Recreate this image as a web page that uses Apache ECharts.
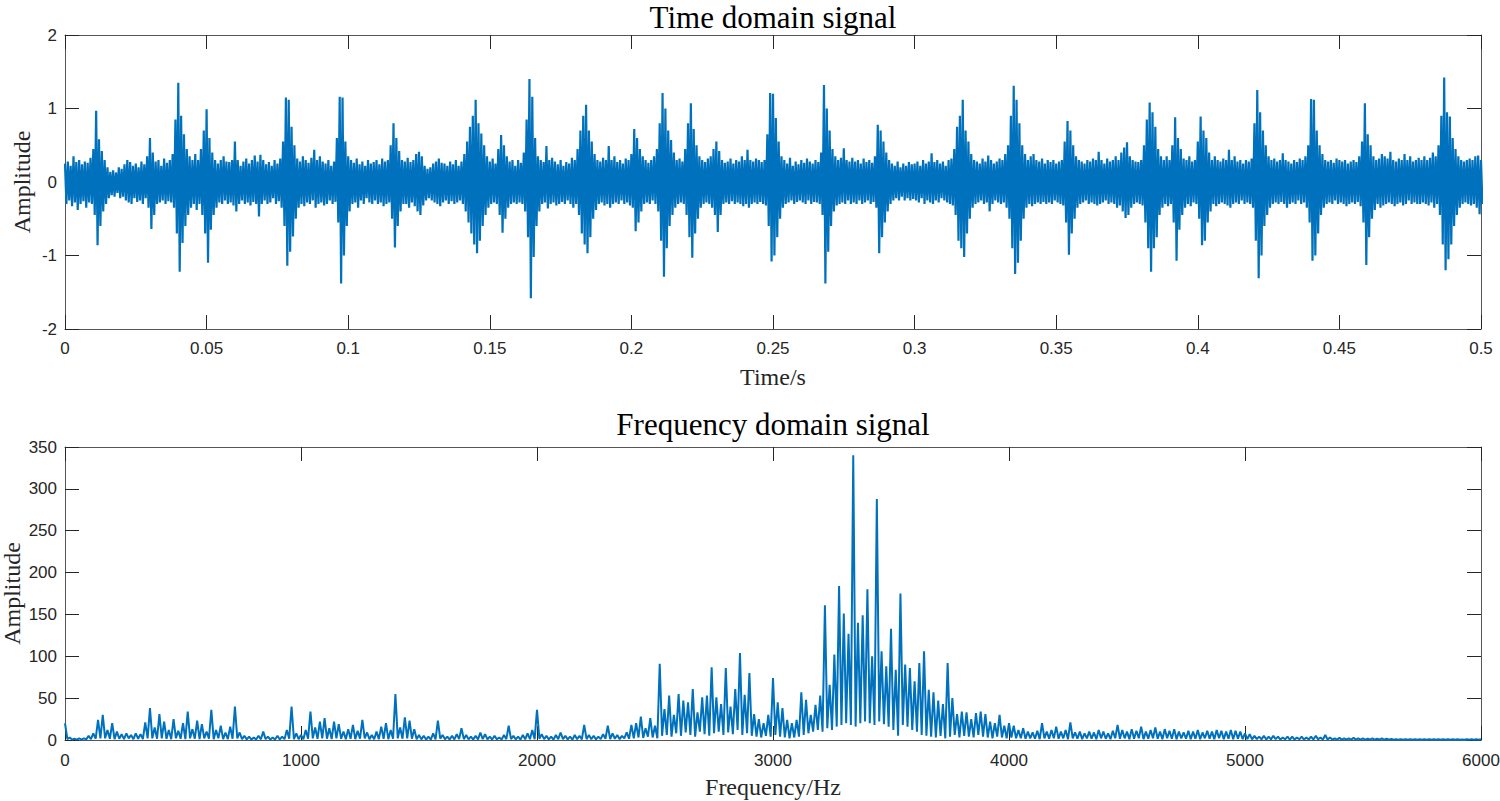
<!DOCTYPE html>
<html>
<head>
<meta charset="utf-8">
<title>Time domain signal / Frequency domain signal</title>
<script src="https://cdn.jsdelivr.net/npm/echarts@6/dist/echarts.min.js"></script>
<style>
  html, body { margin: 0; padding: 0; background: #fff; }
  #chart { width: 1500px; height: 801px; }
</style>
</head>
<body>
<div id="chart"></div>
<script>
// time signal: upper and lower extreme per 1 ms slot
const timeStep = 0.001;
const timeUpper = [
  0.25,0.28,0.22,0.35,0.27,0.3,0.24,0.28,0.26,0.33,0.45,0.97,0.58,0.42,0.3,0.2,0.14,0.16,0.13,0.2,
  0.18,0.24,0.3,0.27,0.22,0.25,0.2,0.28,0.24,0.35,0.6,0.4,0.28,0.3,0.22,0.32,0.26,0.3,0.38,0.85,
  1.35,0.9,0.65,0.45,0.35,0.3,0.38,0.3,0.45,0.7,0.99,0.6,0.4,0.3,0.25,0.3,0.35,0.28,0.27,0.3,
  0.55,0.3,0.22,0.28,0.32,0.25,0.3,0.36,0.28,0.37,0.3,0.24,0.27,0.22,0.3,0.25,0.32,0.55,1.15,1.12,
  0.75,0.5,0.32,0.28,0.35,0.3,0.26,0.33,0.44,0.3,0.35,0.28,0.25,0.3,0.22,0.28,0.6,1.16,1.15,0.55,
  0.35,0.3,0.26,0.32,0.24,0.28,0.22,0.3,0.25,0.27,0.3,0.24,0.32,0.28,0.3,0.5,0.8,0.6,0.42,0.3,
  0.28,0.33,0.27,0.3,0.38,0.41,0.35,0.22,0.18,0.2,0.25,0.28,0.32,0.26,0.25,0.22,0.28,0.24,0.3,0.22,
  0.28,0.38,0.55,0.75,0.9,1.12,0.8,0.66,0.5,0.35,0.28,0.32,0.25,0.45,0.64,0.5,0.35,0.28,0.3,0.22,
  0.3,0.26,0.4,0.85,1.4,1.16,0.6,0.35,0.3,0.27,0.49,0.3,0.33,0.28,0.24,0.3,0.22,0.27,0.25,0.33,
  0.3,0.45,0.7,0.9,1.05,0.7,0.55,0.38,0.3,0.28,0.33,0.3,0.49,0.3,0.35,0.27,0.3,0.25,0.32,0.3,
  0.38,0.72,0.6,0.45,0.35,0.3,0.26,0.3,0.35,0.45,0.8,1.21,1.0,0.7,0.57,0.4,0.3,0.32,0.28,0.45,
  0.8,1.07,0.72,0.5,0.35,0.3,0.27,0.32,0.35,0.45,0.55,0.42,0.3,0.26,0.28,0.32,0.25,0.3,0.28,0.35,
  0.3,0.44,0.3,0.28,0.32,0.3,0.27,0.3,0.65,1.21,1.2,0.87,0.55,0.35,0.3,0.25,0.33,0.22,0.28,0.24,
  0.3,0.26,0.32,0.28,0.25,0.3,0.27,0.4,1.32,1.0,0.7,0.45,0.35,0.3,0.33,0.46,0.3,0.28,0.33,0.28,
  0.3,0.25,0.32,0.27,0.3,0.26,0.35,0.78,0.7,0.55,0.4,0.3,0.25,0.22,0.28,0.2,0.25,0.22,0.27,0.24,
  0.25,0.28,0.22,0.3,0.25,0.28,0.39,0.27,0.3,0.25,0.28,0.22,0.3,0.32,0.45,0.75,0.9,1.12,0.7,0.55,
  0.38,0.3,0.28,0.25,0.32,0.28,0.36,0.3,0.25,0.28,0.32,0.3,0.38,0.5,0.9,1.31,1.12,0.8,0.5,0.38,
  0.3,0.35,0.38,0.3,0.28,0.32,0.25,0.3,0.27,0.3,0.25,0.28,0.3,0.55,0.83,0.7,0.5,0.35,0.3,0.28,
  0.25,0.3,0.28,0.32,0.3,0.41,0.3,0.25,0.32,0.28,0.3,0.35,0.3,0.4,0.47,0.54,0.35,0.3,0.28,0.27,
  0.3,0.5,0.85,1.08,0.95,0.75,0.45,0.35,0.3,0.35,0.3,0.5,0.88,0.6,0.45,0.32,0.3,0.35,0.28,0.3,
  0.55,0.89,0.7,0.6,0.4,0.3,0.35,0.3,0.28,0.32,0.3,0.44,0.3,0.35,0.28,0.3,0.25,0.3,0.28,0.32,
  0.8,1.25,0.95,0.7,0.5,0.35,0.3,0.32,0.28,0.3,0.39,0.3,0.28,0.25,0.3,0.27,0.32,0.3,0.35,0.5,
  1.13,1.12,0.7,0.5,0.38,0.3,0.28,0.3,0.26,0.32,0.3,0.28,0.3,0.25,0.28,0.3,0.27,0.35,0.55,1.07,
  0.65,0.5,0.35,0.3,0.32,0.38,0.35,0.32,0.41,0.3,0.28,0.32,0.3,0.38,0.3,0.35,0.28,0.3,0.33,0.3,
  0.35,0.3,0.33,0.4,0.35,0.5,0.9,1.42,0.95,0.89,0.6,0.45,0.35,0.3,0.28,0.3,0.32,0.3,0.35,0.36,
  0.3
];
const timeLower = [
  -0.3,-0.25,-0.33,-0.28,-0.38,-0.3,-0.26,-0.35,-0.28,-0.3,-0.45,-0.86,-0.6,-0.4,-0.3,-0.22,-0.18,-0.2,-0.15,-0.22,
  -0.2,-0.25,-0.28,-0.3,-0.22,-0.27,-0.25,-0.3,-0.22,-0.35,-0.64,-0.45,-0.3,-0.28,-0.25,-0.3,-0.26,-0.28,-0.35,-0.7,
  -1.22,-0.83,-0.6,-0.45,-0.35,-0.3,-0.38,-0.3,-0.45,-0.7,-1.1,-0.65,-0.45,-0.35,-0.28,-0.3,-0.25,-0.3,-0.28,-0.32,
  -0.4,-0.3,-0.25,-0.3,-0.28,-0.32,-0.27,-0.3,-0.47,-0.3,-0.25,-0.3,-0.28,-0.22,-0.3,-0.26,-0.35,-0.6,-1.14,-0.95,
  -0.74,-0.5,-0.35,-0.3,-0.33,-0.28,-0.3,-0.25,-0.35,-0.3,-0.28,-0.32,-0.3,-0.25,-0.3,-0.27,-0.55,-1.38,-1.0,-0.6,
  -0.4,-0.3,-0.28,-0.35,-0.25,-0.3,-0.22,-0.28,-0.3,-0.25,-0.3,-0.28,-0.33,-0.3,-0.28,-0.5,-0.89,-0.6,-0.4,-0.3,
  -0.3,-0.35,-0.28,-0.33,-0.4,-0.45,-0.32,-0.25,-0.22,-0.25,-0.28,-0.3,-0.33,-0.28,-0.25,-0.3,-0.26,-0.3,-0.28,-0.25,
  -0.3,-0.4,-0.55,-0.7,-0.85,-0.97,-0.8,-0.6,-0.45,-0.35,-0.3,-0.28,-0.3,-0.45,-0.69,-0.5,-0.35,-0.3,-0.28,-0.3,
  -0.28,-0.3,-0.4,-0.75,-1.58,-1.02,-0.6,-0.4,-0.3,-0.28,-0.36,-0.3,-0.28,-0.32,-0.3,-0.27,-0.3,-0.25,-0.3,-0.35,
  -0.3,-0.45,-0.7,-0.85,-0.97,-0.75,-0.5,-0.38,-0.3,-0.28,-0.32,-0.3,-0.35,-0.3,-0.28,-0.3,-0.25,-0.3,-0.28,-0.32,
  -0.35,-0.67,-0.55,-0.4,-0.3,-0.28,-0.3,-0.25,-0.3,-0.4,-0.8,-1.29,-0.9,-0.6,-0.45,-0.35,-0.3,-0.28,-0.3,-0.45,
  -0.75,-1.03,-0.7,-0.5,-0.35,-0.3,-0.28,-0.3,-0.35,-0.45,-0.68,-0.45,-0.3,-0.28,-0.3,-0.26,-0.3,-0.28,-0.3,-0.33,
  -0.3,-0.35,-0.3,-0.28,-0.3,-0.27,-0.3,-0.32,-0.6,-1.08,-1.0,-0.75,-0.5,-0.35,-0.3,-0.28,-0.25,-0.3,-0.27,-0.25,
  -0.28,-0.3,-0.25,-0.3,-0.27,-0.28,-0.3,-0.45,-1.38,-0.95,-0.6,-0.4,-0.32,-0.3,-0.28,-0.3,-0.25,-0.3,-0.28,-0.3,
  -0.25,-0.3,-0.28,-0.25,-0.3,-0.27,-0.35,-0.97,-0.75,-0.55,-0.4,-0.3,-0.25,-0.22,-0.25,-0.2,-0.25,-0.22,-0.25,-0.23,
  -0.25,-0.28,-0.22,-0.3,-0.25,-0.28,-0.3,-0.25,-0.28,-0.22,-0.25,-0.28,-0.3,-0.32,-0.45,-0.8,-0.9,-1.02,-0.7,-0.5,
  -0.35,-0.3,-0.28,-0.25,-0.3,-0.28,-0.4,-0.3,-0.25,-0.28,-0.3,-0.28,-0.35,-0.5,-0.9,-1.25,-1.1,-0.8,-0.5,-0.35,
  -0.3,-0.33,-0.3,-0.28,-0.3,-0.27,-0.3,-0.28,-0.3,-0.25,-0.28,-0.3,-0.32,-0.55,-0.99,-0.7,-0.5,-0.35,-0.3,-0.28,
  -0.25,-0.3,-0.28,-0.3,-0.32,-0.3,-0.28,-0.25,-0.3,-0.28,-0.3,-0.35,-0.32,-0.4,-0.49,-0.45,-0.35,-0.3,-0.28,-0.3,
  -0.32,-0.55,-0.9,-1.22,-0.9,-0.75,-0.45,-0.35,-0.3,-0.33,-0.3,-0.55,-1.07,-0.65,-0.45,-0.35,-0.3,-0.33,-0.28,-0.3,
  -0.5,-0.86,-0.8,-0.55,-0.4,-0.3,-0.33,-0.3,-0.28,-0.3,-0.32,-0.35,-0.3,-0.28,-0.3,-0.25,-0.3,-0.28,-0.3,-0.35,
  -0.8,-1.31,-1.0,-0.6,-0.45,-0.35,-0.3,-0.28,-0.3,-0.27,-0.3,-0.35,-0.3,-0.28,-0.3,-0.25,-0.3,-0.28,-0.35,-0.55,
  -1.07,-1.0,-0.7,-0.45,-0.35,-0.3,-0.28,-0.3,-0.25,-0.3,-0.28,-0.3,-0.33,-0.3,-0.28,-0.3,-0.27,-0.33,-0.55,-1.13,
  -0.75,-0.5,-0.38,-0.3,-0.35,-0.32,-0.3,-0.28,-0.3,-0.33,-0.3,-0.28,-0.32,-0.3,-0.25,-0.3,-0.28,-0.3,-0.3,-0.28,
  -0.3,-0.32,-0.28,-0.35,-0.3,-0.45,-0.85,-1.2,-1.05,-0.85,-0.6,-0.45,-0.35,-0.3,-0.28,-0.3,-0.32,-0.3,-0.35,-0.44,
  -0.3
];

// spectrum: peak and trough per 20 Hz slot
const freqStep = 20;
const specPeak = [
  20,3,1.5,2,2,5,8,24,30,12,
  20,10,7,8,6,8,7,21,38,15,
  31,22,12,25,11,20,34,13,23,19,
  10,36,12,17,9,16,40,9,5,4,
  3,5,10,4,3,5,4,12,40,8,
  6,12,34,15,22,26,14,22,19,10,
  13,18,11,24,9,6,10,16,20,12,
  55,15,27,23,13,6,5,4,8,23,
  6,4,5,7,14,6,4,5,9,7,
  4,5,3,6,17,5,4,6,8,12,
  36,7,5,4,6,9,5,4,6,5,
  18,6,5,4,7,17,8,6,5,9,
  18,20,28,14,26,17,91,37,53,30,
  55,47,45,61,33,51,53,87,51,43,
  86,40,61,104,54,80,31,25,20,30,
  74,45,38,24,20,24,57,48,30,42,
  53,161,66,102,184,151,127,340,140,149,
  180,100,288,106,88,133,84,175,90,86,
  70,92,106,60,57,47,43,92,50,31,
  34,33,25,32,34,31,22,20,30,17,
  20,17,12,14,10,9,11,20,10,12,
  16,10,12,21,9,10,8,10,9,12,
  10,8,11,18,12,10,13,11,16,10,
  12,15,10,13,11,13,10,9,11,10,
  12,9,11,10,12,11,10,12,11,10,
  8,7,5,4,5,4,5,4,3,4,
  4,3,4,3,4,5,3,6,3,2,
  2.5,2,2,2.5,2,2,1.5,2,1.5,2,
  1.5,1.2,1,1,0.9,1,0.8,0.9,1,0.8,
  0.9,0.8,1,0.8,0.9,0.8,0.7,0.9,0.8,0.8,
  0.8
];
const specLow = [
  1,0.5,0.5,0.5,0.8,1,1.5,2,2,1.5,
  1,1.5,1,2,1,1.5,1,2,2,1.5,
  2,1.5,1,2,1.5,1,2,1.5,1,2,
  1.5,1,2,1,1,1.5,2,1,0.8,0.5,
  0.5,0.8,1,0.5,0.5,0.8,1,1.5,1,1,
  1,1.5,2,1.5,2,1.5,1,2,1.5,1,
  1.5,1,1.5,2,1,0.8,1,1.5,1,1.5,
  2,1.5,2,1.5,1,0.8,0.5,0.5,0.8,1.5,
  0.8,0.5,0.8,1,1,0.8,0.5,0.8,1,0.8,
  0.5,0.8,0.5,1,1,0.8,0.5,0.8,1,1,
  1.5,1,0.8,0.5,1,1,0.8,0.5,1,0.8,
  1,1,0.8,1,1.5,1,1.5,1,2,1.5,
  2,3,2.5,4,3,2,5,6,4,8,
  5,9,6,4,10,7,5,8,10,6,
  9,7,12,6,8,5,4,3,5,4,
  6,4,3,2,3,4,6,8,10,12,
  10,14,12,16,18,20,18,16,20,22,
  20,18,22,19,16,12,5,18,16,12,
  10,6,5,4,3,5,2,4,6,3,
  5,4,3,6,4,3,2,4,3,2,
  3,2,2,1.5,2,1.5,1,2,1.5,2,
  1.5,2,1,2,1.5,1,2,1.5,1,2,
  1.5,1,2,1.5,2,1,1.5,2,1,1.5,
  2,1.5,1,2,1.5,1,2,1.5,1,1.5,
  1,2,1.5,1,2,1,1.5,1,1.5,1,
  1,0.8,1,0.8,0.5,0.8,1,0.5,0.8,0.5,
  0.5,0.8,0.5,0.6,0.5,0.8,0.5,0.6,0.5,0.4,
  0.4,0.5,0.4,0.5,0.4,0.3,0.4,0.3,0.4,0.3,
  0.3,0.3,0.2,0.3,0.2,0.3,0.2,0.3,0.2,0.2,
  0.2,0.3,0.2,0.2,0.3,0.2,0.2,0.3,0.2,0.2,
  0.2
];

const titles = ['Time domain signal', 'Frequency domain signal'];
const xNames = ['Time/s', 'Frequency/Hz'];
const yName = 'Amplitude';

// interleave the extremes so the line sweeps up and down like the raw trace
const timeData = [];
timeUpper.forEach((v, i) => {
  timeData.push([i * timeStep, v]);
  if (timeLower[i] !== undefined) timeData.push([i * timeStep + timeStep / 2, timeLower[i]]);
});
const specData = [];
specPeak.forEach((v, i) => {
  specData.push([i * freqStep, v]);
  if (i < specPeak.length - 1) specData.push([i * freqStep + freqStep / 2, specLow[i]]);
});

const sans = 'Liberation Sans, Arial, Helvetica, sans-serif';
const serif = 'Liberation Serif, Times New Roman, serif';
const ink = '#262626';
const lineBlue = '#0072BD';

function boxAxis(gridIndex, position, min, max, interval, extra) {
  return Object.assign({
    type: 'value', gridIndex, position, min, max, interval,
    axisLine: { show: true, onZero: false, lineStyle: { color: '#555', width: 1 } },
    axisTick: { show: true, inside: true, length: 14, lineStyle: { color: ink, width: 1 } },
    axisLabel: { show: false },
    splitLine: { show: false }
  }, extra || {});
}

const tickLabel = (margin, fmt) => ({
  show: true, margin, color: ink, fontFamily: sans, fontSize: 17, formatter: fmt
});
const nameStyle = { color: ink, fontFamily: serif, fontSize: 24 };

const chart = echarts.init(document.getElementById('chart'), null, { renderer: 'svg' });
chart.setOption({
  animation: false,
  backgroundColor: '#fff',
  title: titles.map((t, i) => ({
    text: t, left: 773, top: i === 0 ? 2 : 409, textAlign: 'center', padding: 0,
    textStyle: { color: '#000', fontFamily: serif, fontSize: 31, fontWeight: 'normal', lineHeight: 31 }
  })),
  grid: [
    { left: 65, right: 19, top: 35, height: 294, containLabel: false, outerBoundsMode: 'none' },
    { left: 65, right: 19, top: 447, height: 293, containLabel: false, outerBoundsMode: 'none' }
  ],
  xAxis: [
    boxAxis(0, 'bottom', 0, 0.5, 0.05, {
      axisLabel: tickLabel(11, v => String(+v.toFixed(2))),
      name: xNames[0], nameLocation: 'middle', nameGap: 36, nameTextStyle: nameStyle
    }),
    boxAxis(0, 'top', 0, 0.5, 0.05),
    boxAxis(1, 'bottom', 0, 6000, 1000, {
      axisLabel: tickLabel(12, v => String(v)),
      name: xNames[1], nameLocation: 'middle', nameGap: 35, nameTextStyle: nameStyle
    }),
    boxAxis(1, 'top', 0, 6000, 1000)
  ],
  yAxis: [
    boxAxis(0, 'left', -2, 2, 1, {
      axisLabel: tickLabel(8, v => String(v)),
      name: yName, nameLocation: 'middle', nameGap: 31, nameMoveOverlap: false, nameTextStyle: nameStyle
    }),
    boxAxis(0, 'right', -2, 2, 1),
    boxAxis(1, 'left', 0, 350, 50, {
      axisLabel: tickLabel(8, v => String(v)),
      name: yName, nameLocation: 'middle', nameGap: 41, nameMoveOverlap: false, nameTextStyle: nameStyle
    }),
    boxAxis(1, 'right', 0, 350, 50)
  ],
  series: [
    {
      type: 'line', xAxisIndex: 0, yAxisIndex: 0, data: timeData,
      showSymbol: false, symbol: 'none', clip: true,
      lineStyle: { color: lineBlue, width: 2.2 }
    },
    {
      type: 'line', xAxisIndex: 2, yAxisIndex: 2, data: specData,
      showSymbol: false, symbol: 'none', clip: true,
      lineStyle: { color: lineBlue, width: 2 }
    }
  ]
});
</script>
</body>
</html>
